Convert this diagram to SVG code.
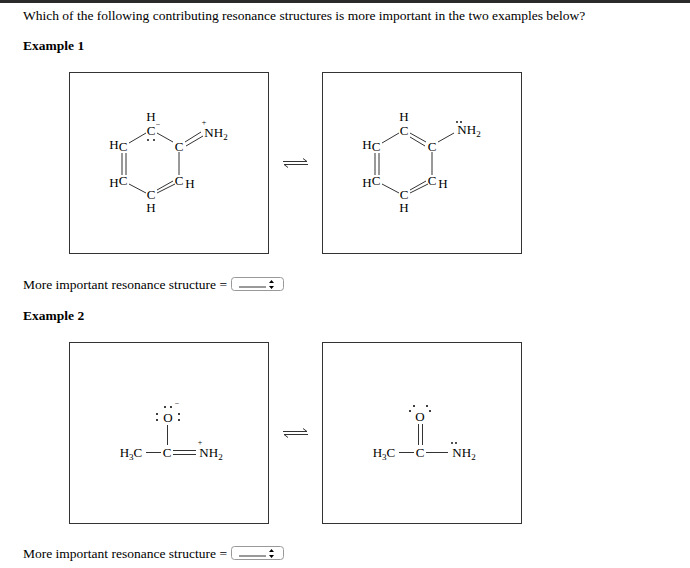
<svg xmlns="http://www.w3.org/2000/svg" width="690" height="568" viewBox="0 0 690 568">
<style>
text{font-family:"Liberation Serif",serif;fill:#000}
.q{font-size:13.5px}
.h{font-size:13.5px;font-weight:bold}
.a{font-size:13px;text-anchor:middle}
.s{font-size:8px;text-anchor:middle}
.b{stroke:#333;stroke-width:1;fill:none}
.box{fill:#fff;stroke:#333;stroke-width:1}
.d{fill:#000}
</style>
<rect x="0" y="0" width="690" height="568" fill="#fff"/>
<rect x="0" y="0" width="690" height="3" fill="#2b2b2b"/>
<text class="q" x="23" y="20">Which of the following contributing resonance structures is more important in the two examples below?</text>
<text class="h" x="23" y="50">Example 1</text>

<g id="ex1-left">
<rect class="box" x="69.5" y="72.5" width="199" height="181"/>
<text class="a" x="151" y="121">H</text><text class="a" x="151" y="135">C</text>
<text class="s" x="158" y="127">−</text>
<circle class="d" cx="148" cy="140" r="0.9"/><circle class="d" cx="154" cy="140" r="0.9"/>
<text class="a" x="179" y="151">C</text>
<text class="a" x="216" y="137">NH<tspan font-size="9" dy="3">2</tspan></text>
<text class="s" x="204" y="125">+</text>
<text class="a" x="114" y="149">H</text><text class="a" x="123" y="151">C</text>
<text class="a" x="114" y="187">H</text><text class="a" x="123" y="185">C</text>
<text class="a" x="179" y="185">C</text><text class="a" x="190" y="188">H</text>
<text class="a" x="151" y="199">C</text><text class="a" x="151" y="212">H</text>
<path class="b" d="M157 133L173 142M179 152V175M175 184L157 193M146 193L129 184M122 153V175M126 153V175M129 143L146 133M185 142L201 132M186 146L203 136M173 181L157 190"/>
</g>

<g id="ex1-right">
<rect class="box" x="322.5" y="72.5" width="199" height="181"/>
<text class="a" x="404" y="121">H</text><text class="a" x="404" y="135">C</text>
<text class="a" x="432" y="151">C</text>
<text class="a" x="469" y="134">NH<tspan font-size="9" dy="3">2</tspan></text>
<circle class="d" cx="457" cy="122" r="0.9"/><circle class="d" cx="461" cy="122" r="0.9"/>
<text class="a" x="367" y="149">H</text><text class="a" x="376" y="151">C</text>
<text class="a" x="367" y="187">H</text><text class="a" x="376" y="185">C</text>
<text class="a" x="432" y="185">C</text><text class="a" x="443" y="188">H</text>
<text class="a" x="404" y="199">C</text><text class="a" x="404" y="212">H</text>
<path class="b" d="M410 133L426 142M410 137L425 146M432 152V175M428 184L410 193M426 181L410 190M399 193L382 184M375 153V175M379 153V175M382 143L399 133M438 142L454 133"/>
</g>

<g id="connectors">
<path class="b" d="M283 161.5H307L303 158.5M308 164.5H284L288 167.5"/>
<path class="b" d="M283 431.5H307L303 428.5M308 434.5H284L288 437.5"/>
</g>

<g id="select1">
<text class="q" x="23" y="289">More important resonance structure =</text>
<rect x="231.5" y="277.5" width="52" height="13" rx="3" fill="#fff" stroke="#999"/>
<path d="M239 287H266" stroke="#000" stroke-width="0.8"/>
<path d="M274 283l-2.5 -3l-2.5 3zM274 286l-2.5 3l-2.5 -3z" fill="#000"/>
</g>
<text class="h" x="23" y="320">Example 2</text>

<g id="ex2-left">
<rect class="box" x="69.5" y="342.5" width="199" height="181"/>
<text class="a" x="168" y="422">O</text>
<circle class="d" cx="157" cy="414" r="1"/><circle class="d" cx="157" cy="420" r="1"/>
<circle class="d" cx="179" cy="414" r="1"/><circle class="d" cx="179" cy="420" r="1"/>
<circle class="d" cx="165" cy="407" r="1"/><circle class="d" cx="171" cy="407" r="1"/>
<text class="s" x="177" y="406">−</text>
<text class="a" x="131" y="457">H<tspan font-size="9" dy="3">3</tspan><tspan dy="-3">C</tspan></text>
<text class="a" x="167" y="457">C</text>
<text class="a" x="211" y="457">NH<tspan font-size="9" dy="3">2</tspan></text>
<text class="s" x="200" y="445">+</text>
<path class="b" d="M167.5 425V445M146 452.5H161M173 450.5H196M173 454.5H196"/>
</g>

<g id="ex2-right">
<rect class="box" x="322.5" y="342.5" width="199" height="181"/>
<text class="a" x="420" y="421">O</text>
<circle class="d" cx="410" cy="411" r="1"/><circle class="d" cx="430" cy="411" r="1"/>
<circle class="d" cx="414" cy="406" r="1"/><circle class="d" cx="427" cy="406" r="1"/>
<text class="a" x="384" y="457">H<tspan font-size="9" dy="3">3</tspan><tspan dy="-3">C</tspan></text>
<text class="a" x="420" y="457">C</text>
<text class="a" x="464" y="457">NH<tspan font-size="9" dy="3">2</tspan></text>
<circle class="d" cx="452" cy="443" r="0.9"/><circle class="d" cx="456" cy="443" r="0.9"/>
<path class="b" d="M418.5 424V445M422.5 424V445M399 452.5H414M426 452.5H448"/>
</g>

<g id="select2">
<text class="q" x="23" y="558">More important resonance structure =</text>
<rect x="231.5" y="546.5" width="52" height="13" rx="3" fill="#fff" stroke="#999"/>
<path d="M239 556H266" stroke="#000" stroke-width="0.8"/>
<path d="M274 552l-2.5 -3l-2.5 3zM274 555l-2.5 3l-2.5 -3z" fill="#000"/>
</g>
</svg>
